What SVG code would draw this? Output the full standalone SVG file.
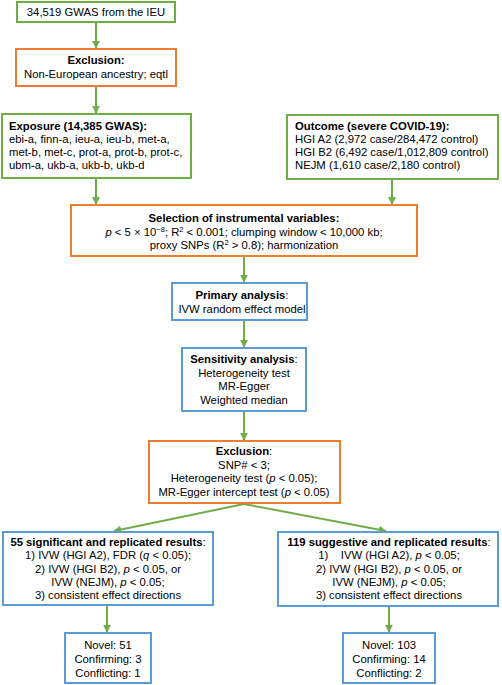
<svg xmlns="http://www.w3.org/2000/svg" width="502" height="685" viewBox="0 0 502 685">
<style>
text{font-family:"Liberation Sans",Arial,sans-serif;font-size:11.3px;fill:#000}
.c{text-anchor:middle}
.b{font-weight:bold}
.i{font-style:italic}
.sup{font-size:7.5px}
.g{fill:#fff;stroke:#70AD47;stroke-width:2}
.o{fill:#fff;stroke:#ED7D31;stroke-width:2}
.bl{fill:#fff;stroke:#5B9BD5;stroke-width:2}
.e{stroke:#70AD47;stroke-width:2;fill:none;marker-end:url(#ah)}
</style>
<defs>
<marker id="ah" viewBox="0 0 10 10" refX="9" refY="5" markerWidth="4" markerHeight="4" orient="auto" markerUnits="strokeWidth">
<path d="M0,0 L10,5 L0,10 z" fill="#70AD47"/>
</marker>
</defs>
<rect width="502" height="685" fill="#fff"/>
<g id="connectors">
<line class="e" x1="96" y1="22" x2="96" y2="48"/>
<line class="e" x1="96" y1="87" x2="96" y2="113"/>
<line class="e" x1="96" y1="179" x2="96" y2="204"/>
<line class="e" x1="392" y1="180" x2="392" y2="204"/>
<line class="e" x1="244" y1="257" x2="244" y2="282"/>
<line class="e" x1="244" y1="321" x2="244" y2="347"/>
<line class="e" x1="244" y1="412" x2="244" y2="440"/>
<line class="e" x1="244" y1="504" x2="114" y2="531"/>
<line class="e" x1="244" y1="504" x2="386" y2="531"/>
<line class="e" x1="107" y1="606" x2="107" y2="632"/>
<line class="e" x1="389" y1="607" x2="389" y2="632"/>
</g>
<g id="n_gwas">
<rect class="g" x="17" y="2" width="158" height="20"/>
<text class="c" x="96" y="16">34,519 GWAS from the IEU</text>
</g>
<g id="n_excl1">
<rect class="o" x="16" y="49" width="160" height="37"/>
<text class="c b" x="96" y="64">Exclusion:</text>
<text class="c" x="96" y="78">Non-European ancestry; eqtl</text>
</g>
<g id="n_exposure">
<rect class="g" x="2" y="114" width="189" height="64"/>
<text class="b" x="9" y="130">Exposure (14,385 GWAS):</text>
<text x="9" y="143">ebi-a, finn-a, ieu-a, ieu-b, met-a,</text>
<text x="9" y="156">met-b, met-c, prot-a, prot-b, prot-c,</text>
<text x="9" y="169">ubm-a, ukb-a, ukb-b, ukb-d</text>
</g>
<g id="n_outcome">
<rect class="g" x="287" y="115" width="211" height="64"/>
<text class="b" x="295" y="130">Outcome (severe COVID-19):</text>
<text x="295" y="143">HGI A2 (2,972 case/284,472 control)</text>
<text x="295" y="156">HGI B2 (6,492 case/1,012,809 control)</text>
<text x="295" y="169">NEJM (1,610 case/2,180 control)</text>
</g>
<g id="n_selection">
<rect class="o" x="71" y="205" width="346" height="51"/>
<text class="c b" x="244" y="222">Selection of instrumental variables:</text>
<text class="c" x="244" y="236"><tspan class="i">p</tspan> &lt; 5 × 10<tspan class="sup" dy="-4">−8</tspan><tspan dy="4">; R</tspan><tspan class="sup" dy="-4">2</tspan><tspan dy="4"> &lt; 0.001; clumping window &lt; 10,000 kb;</tspan></text>
<text class="c" x="244" y="249">proxy SNPs (R<tspan class="sup" dy="-4">2</tspan><tspan dy="4"> &gt; 0.8); harmonization</tspan></text>
</g>
<g id="n_primary">
<rect class="bl" x="172" y="283" width="135" height="37"/>
<text class="c" x="242" y="299"><tspan class="b">Primary analysis</tspan>:</text>
<text class="c" x="242" y="313">IVW random effect model</text>
</g>
<g id="n_sensitivity">
<rect class="bl" x="182" y="348" width="124" height="63"/>
<text class="c" x="244" y="363"><tspan class="b">Sensitivity analysis</tspan>:</text>
<text class="c" x="244" y="377">Heterogeneity test</text>
<text class="c" x="244" y="390">MR-Egger</text>
<text class="c" x="244" y="404">Weighted median</text>
</g>
<g id="n_excl2">
<rect class="o" x="149" y="441" width="191" height="62"/>
<text class="c" x="244" y="455"><tspan class="b">Exclusion</tspan>:</text>
<text class="c" x="244" y="469">SNP# &lt; 3;</text>
<text class="c" x="244" y="482">Heterogeneity test (<tspan class="i">p</tspan> &lt; 0.05);</text>
<text class="c" x="244" y="496">MR-Egger intercept test (<tspan class="i">p</tspan> &lt; 0.05)</text>
</g>
<g id="n_sig">
<rect class="bl" x="3" y="532" width="210" height="73"/>
<text class="c" x="108" y="546"><tspan class="b">55 significant and replicated results</tspan>:</text>
<text class="c" x="108" y="559">1) IVW (HGI A2), FDR (<tspan class="i">q</tspan> &lt; 0.05);</text>
<text class="c" x="108" y="573">2) IVW (HGI B2), <tspan class="i">p</tspan> &lt; 0.05, or</text>
<text class="c" x="108" y="586">IVW (NEJM), <tspan class="i">p</tspan> &lt; 0.05;</text>
<text class="c" x="108" y="599">3) consistent effect directions</text>
</g>
<g id="n_sug">
<rect class="bl" x="278" y="532" width="220" height="74"/>
<text class="c" x="389" y="546"><tspan class="b">119 suggestive and replicated results</tspan>:</text>
<text class="c" x="389" y="559" xml:space="preserve">1)    IVW (HGI A2), <tspan class="i">p</tspan> &lt; 0.05;</text>
<text class="c" x="389" y="573">2) IVW (HGI B2), <tspan class="i">p</tspan> &lt; 0.05, or</text>
<text class="c" x="389" y="586">IVW (NEJM), <tspan class="i">p</tspan> &lt; 0.05;</text>
<text class="c" x="389" y="599">3) consistent effect directions</text>
</g>
<g id="n_res1">
<rect class="bl" x="65" y="633" width="86" height="50"/>
<text class="c" x="108" y="649">Novel: 51</text>
<text class="c" x="108" y="663">Confirming: 3</text>
<text class="c" x="108" y="677">Conflicting: 1</text>
</g>
<g id="n_res2">
<rect class="bl" x="343" y="633" width="92" height="50"/>
<text class="c" x="389" y="649">Novel: 103</text>
<text class="c" x="389" y="663">Confirming: 14</text>
<text class="c" x="389" y="677">Conflicting: 2</text>
</g>
</svg>
